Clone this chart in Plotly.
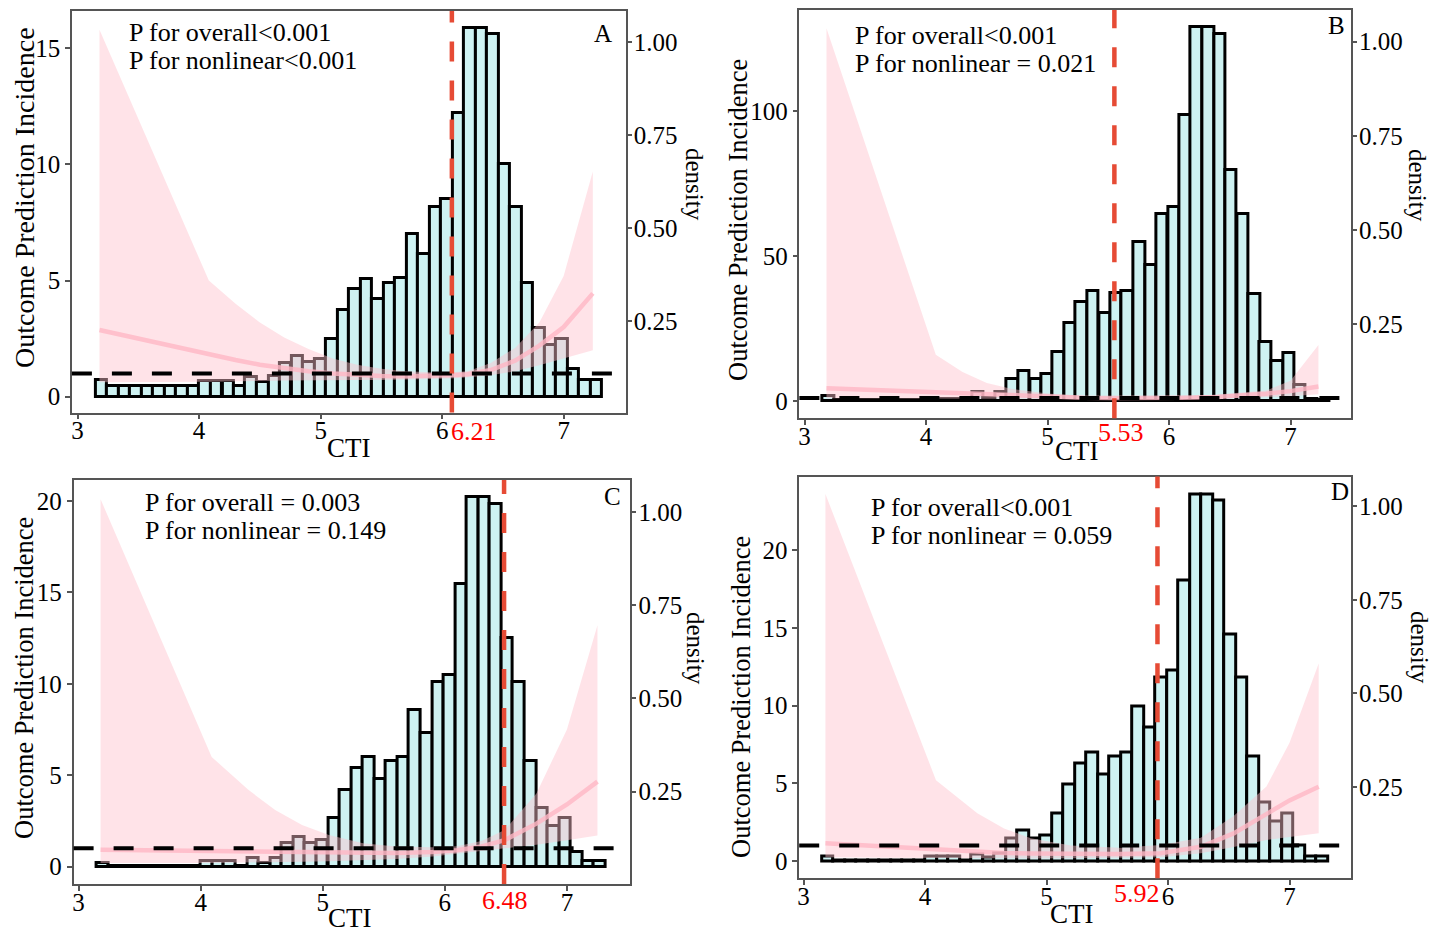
import plotly.graph_objects as go

W, H = 1441, 937

# ---------------- data ----------------
cti_bins = [3.197, 3.292, 3.387, 3.481, 3.576, 3.671, 3.765, 3.860, 3.955, 4.049,
            4.144, 4.239, 4.334, 4.428, 4.523, 4.618, 4.712, 4.807, 4.902, 4.996,
            5.091, 5.186, 5.280, 5.375, 5.470, 5.564, 5.659, 5.754, 5.849, 5.943,
            6.038, 6.133, 6.227, 6.322, 6.417, 6.511, 6.606, 6.701, 6.795, 6.890,
            6.985, 7.079, 7.174, 7.269]
bin_width = 0.0947

density_A = [0.092, 0.076, 0.076, 0.076, 0.076, 0.076, 0.076, 0.076, 0.076, 0.090,
             0.090, 0.090, 0.076, 0.099, 0.087, 0.102, 0.138, 0.157, 0.141, 0.148,
             0.203, 0.279, 0.335, 0.362, 0.308, 0.353, 0.365, 0.483, 0.429, 0.557,
             0.577, 0.809, 1.036, 1.036, 1.020, 0.671, 0.557, 0.353, 0.230, 0.186,
             0.203, 0.120, 0.092, 0.092]
density_B = [0.060, 0.048, 0.048, 0.048, 0.048, 0.048, 0.048, 0.048, 0.048, 0.052,
             0.052, 0.052, 0.049, 0.069, 0.055, 0.069, 0.105, 0.126, 0.105, 0.117,
             0.176, 0.253, 0.310, 0.338, 0.281, 0.332, 0.338, 0.467, 0.407, 0.542,
             0.560, 0.805, 1.040, 1.040, 1.020, 0.658, 0.542, 0.330, 0.204, 0.153,
             0.175, 0.088, 0.053, 0.050]
density_C = [0.060, 0.051, 0.051, 0.051, 0.051, 0.051, 0.051, 0.051, 0.051, 0.065,
             0.065, 0.065, 0.051, 0.071, 0.058, 0.071, 0.112, 0.129, 0.113, 0.121,
             0.179, 0.255, 0.313, 0.342, 0.283, 0.332, 0.342, 0.469, 0.408, 0.543,
             0.563, 0.806, 1.040, 1.040, 1.021, 0.661, 0.543, 0.332, 0.207, 0.158,
             0.179, 0.087, 0.063, 0.063]
density_D = [0.063, 0.053, 0.053, 0.053, 0.053, 0.053, 0.053, 0.053, 0.053, 0.063,
             0.063, 0.063, 0.053, 0.070, 0.062, 0.072, 0.112, 0.132, 0.112, 0.121,
             0.179, 0.257, 0.313, 0.341, 0.284, 0.332, 0.341, 0.466, 0.408, 0.543,
             0.561, 0.803, 1.033, 1.033, 1.015, 0.658, 0.542, 0.332, 0.207, 0.157,
             0.179, 0.092, 0.063, 0.063]

# restricted cubic spline fit (odds ratio) with 95% CI
curve_x_A = [3.18, 4.08, 4.3, 4.5, 4.7, 4.9, 5.1, 5.3, 5.5, 5.7, 5.9, 6.1, 6.21, 6.4, 6.6, 6.8, 7.0, 7.24]
fit_A     = [2.87, 1.82, 1.58, 1.38, 1.22, 1.10, 1.00, 0.93, 0.89, 0.88, 0.89, 0.93, 0.97, 1.15, 1.55, 2.2, 3.0, 4.45]
upper_A   = [15.8, 5.0, 4.0, 3.2, 2.55, 2.05, 1.65, 1.38, 1.2, 1.1, 1.05, 1.06, 1.1, 1.45, 2.1, 3.2, 5.2, 9.7]
lower_A   = [0.62, 0.64, 0.66, 0.68, 0.70, 0.71, 0.72, 0.72, 0.72, 0.73, 0.76, 0.80, 0.84, 0.92, 1.10, 1.35, 1.65, 2.0]

curve_x_B = [3.18, 4.08, 4.3, 4.5, 4.7, 5.0, 5.3, 5.53, 5.8, 6.1, 6.4, 6.6, 6.8, 7.0, 7.23]
fit_B     = [4.4, 3.0, 2.6, 2.2, 1.8, 1.4, 1.1, 1.0, 1.0, 1.1, 1.4, 1.8, 2.5, 3.4, 5.0]
upper_B   = [128.5, 15.9, 10.0, 6.2, 4.2, 2.6, 1.7, 1.35, 1.3, 1.5, 2.2, 3.0, 3.6, 7.0, 19.3]
lower_B   = [0.9, 0.9, 0.85, 0.8, 0.75, 0.7, 0.7, 0.72, 0.75, 0.8, 0.9, 1.05, 1.3, 1.6, 2.3]

curve_x_C = [3.18, 4.09, 4.39, 4.61, 4.83, 5.05, 5.33, 5.6, 5.9, 6.1, 6.3, 6.49, 6.75, 7.0, 7.25]
fit_C     = [0.92, 0.86, 0.82, 0.79, 0.76, 0.74, 0.73, 0.74, 0.80, 0.90, 1.1, 1.45, 2.35, 3.4, 4.65]
upper_C   = [20.1, 6.0, 4.2, 3.1, 2.28, 1.73, 1.28, 1.1, 1.06, 1.12, 1.4, 2.0, 4.0, 7.5, 13.2]
lower_C   = [0.2, 0.2, 0.22, 0.24, 0.27, 0.3, 0.35, 0.42, 0.55, 0.68, 0.85, 1.0, 1.2, 1.45, 1.7]

curve_x_D = [3.18, 4.09, 4.43, 4.65, 4.87, 5.2, 5.6, 5.94, 6.27, 6.54, 6.81, 7.0, 7.24]
fit_D     = [1.14, 0.72, 0.6, 0.52, 0.48, 0.46, 0.46, 0.5, 0.92, 1.78, 3.07, 3.9, 4.78]
upper_D   = [23.6, 5.2, 3.07, 2.1, 1.46, 1.0, 0.85, 1.03, 1.5, 2.9, 4.8, 7.6, 12.7]
lower_D   = [0.25, 0.2, 0.18, 0.17, 0.17, 0.18, 0.2, 0.25, 0.5, 0.9, 1.35, 1.55, 1.78]

cut_line_x = [6.08, 5.55, 6.485, 5.913]
cut_labels = ["6.21", "5.53", "6.48", "5.92"]
p_overall = ["P for overall&lt;0.001", "P for overall&lt;0.001", "P for overall = 0.003", "P for overall&lt;0.001"]
p_nonlinear = ["P for nonlinear&lt;0.001", "P for nonlinear = 0.021", "P for nonlinear = 0.149", "P for nonlinear = 0.059"]
panel_letters = ["A", "B", "C", "D"]
left_ticks = [[0, 5, 10, 15], [0, 50, 100], [0, 5, 10, 15, 20], [0, 5, 10, 15, 20]]
x_ticks = [3, 4, 5, 6, 7]
density_ticks = [0.25, 0.50, 0.75, 1.00]

# ---------------- layout (pixels) ----------------
FONT = "Liberation Serif, Times New Roman, serif"
panels = [
    dict(dens=density_A, cx=curve_x_A, fit=fit_A, up=upper_A, lo=lower_A,
         rect=(70, 624.5, 11, 412.5), xr=(2.953, 7.51), pr=(-0.68, 16.61), a=0.0467, b=0.06238,
         ptxt=(125, 32, 60), letter=(602, 34), cti=(347, 448), lab_shift=22, lab_y=431,
         ltitle=(22, 197), lsize=28, rtitle=(693, 184)),
    dict(dens=density_B, cx=curve_x_B, fit=fit_B, up=upper_B, lo=lower_B,
         rect=(798.5, 1351, 10, 418.3), xr=(2.957, 7.499), pr=(-5.97, 134.8), a=0.0464, b=0.007696,
         ptxt=(852, 35, 64), letter=(1336, 26), cti=(1076, 451), lab_shift=7, lab_y=432,
         ltitle=(737, 220), lsize=26.5, rtitle=(1418, 185)),
    dict(dens=density_C, cx=curve_x_C, fit=fit_C, up=upper_C, lo=lower_C,
         rect=(71.7, 629.3, 480, 884), xr=(2.959, 7.52), pr=(-0.95, 21.15), a=0.0490, b=0.04900,
         ptxt=(141, 502, 530), letter=(611, 496), cti=(348, 918), lab_shift=1, lab_y=900,
         ltitle=(22, 678), lsize=26.5, rtitle=(695, 648)),
    dict(dens=density_D, cx=curve_x_D, fit=fit_D, up=upper_D, lo=lower_D,
         rect=(798.3, 1351, 476.5, 878.3), xr=(2.964, 7.507), pr=(-1.11, 24.73), a=0.0514, b=0.0416,
         ptxt=(868, 507, 535), letter=(1340, 492), cti=(1071, 914), lab_shift=-20, lab_y=893,
         ltitle=(740, 697), lsize=26.5, rtitle=(1420, 647)),
]

BAR_FILL = "#CEF2F2"
RIBBON = "rgba(255,192,203,0.45)"
LINE = "rgba(255,182,196,0.8)"
RED = "#E64B35"
AX = "#555555"

fig = go.Figure()
layout = dict(width=W, height=H, margin=dict(l=0, r=0, t=0, b=0), autosize=False,
              paper_bgcolor="white", plot_bgcolor="white", showlegend=False,
              font=dict(family=FONT, size=25, color="black"))
annotations = []
shapes = []


def px(x):
    return x / W


def py(y):
    return 1 - y / H


for i, P in enumerate(panels):
    n = i + 1
    xa = "x" if n == 1 else f"x{n}"
    yp = "y" if n == 1 else f"y{2 * n - 1}"
    ys = f"y{2 * n}"
    xkey = "xaxis" if n == 1 else f"xaxis{n}"
    ypkey = "yaxis" if n == 1 else f"yaxis{2 * n - 1}"
    yskey = f"yaxis{2 * n}"
    l, r, t, btm = P["rect"]
    a, b = P["a"], P["b"]

    # histogram (density converted to the primary axis through the secondary-axis transform)
    fig.add_trace(go.Bar(x=cti_bins, y=[(d - a) / b for d in P["dens"]], width=bin_width,
                         marker=dict(color=BAR_FILL, line=dict(color="black", width=3)),
                         xaxis=xa, yaxis=yp, hoverinfo="skip"))
    # confidence ribbon
    fig.add_trace(go.Scatter(x=P["cx"] + P["cx"][::-1], y=P["up"] + P["lo"][::-1],
                             fill="toself", fillcolor=RIBBON, line=dict(width=0),
                             mode="lines", xaxis=xa, yaxis=yp, hoverinfo="skip"))
    # fitted curve
    fig.add_trace(go.Scatter(x=P["cx"], y=P["fit"], mode="lines",
                             line=dict(color=LINE, width=4.5), xaxis=xa, yaxis=yp, hoverinfo="skip"))
    # secondary axis carrier
    fig.add_trace(go.Scatter(x=[None], y=[None], mode="markers", xaxis=xa, yaxis=ys, hoverinfo="skip"))

    common = dict(showgrid=False, zeroline=False, ticks="outside", ticklen=5, tickwidth=1.5,
                  tickcolor=AX, tickfont=dict(family=FONT, size=25, color="black"))
    layout[xkey] = dict(domain=[px(l), px(r)], range=list(P["xr"]), tickvals=x_ticks,
                        showline=True, mirror=True, linecolor=AX, linewidth=1.5,
                        anchor=yp, ticklabelstandoff=-10, **common)
    layout[ypkey] = dict(domain=[py(btm), py(t)], range=list(P["pr"]), tickvals=left_ticks[i],
                         showline=True, mirror=True, linecolor=AX, linewidth=1.5,
                         anchor=xa, **common)
    layout[yskey] = dict(overlaying=yp, side="right", anchor=xa,
                         range=[a + b * P["pr"][0], a + b * P["pr"][1]],
                         tickvals=density_ticks, ticktext=[f"{v:.2f}" for v in density_ticks],
                         showline=False, ticklabelstandoff=-3, **common)

    # reference line OR = 1
    shapes.append(dict(type="line", xref=f"{xa} domain", x0=0, x1=1, yref=yp, y0=1, y1=1,
                       line=dict(color="black", width=4, dash="20px,20px"), layer="above"))
    # cut-off line
    shapes.append(dict(type="line", xref=xa, x0=cut_line_x[i], x1=cut_line_x[i],
                       yref=f"{yp} domain", y0=0, y1=1,
                       line=dict(color=RED, width=4.5, dash="20px,19px"), layer="above"))

    # texts
    tx, ty1, ty2 = P["ptxt"]
    annotations.append(dict(text=p_overall[i], x=px(tx), y=py(ty1), xref="paper", yref="paper",
                            xanchor="left", yanchor="middle", showarrow=False, font=dict(size=26)))
    annotations.append(dict(text=p_nonlinear[i], x=px(tx), y=py(ty2), xref="paper", yref="paper",
                            xanchor="left", yanchor="middle", showarrow=False, font=dict(size=26)))
    lx, ly = P["letter"]
    annotations.append(dict(text=panel_letters[i], x=px(lx), y=py(ly), xref="paper", yref="paper",
                            xanchor="center", yanchor="middle", showarrow=False, font=dict(size=25)))
    cx_, cy_ = P["cti"]
    annotations.append(dict(text="CTI", x=px(cx_), y=py(cy_), xref="paper", yref="paper",
                            xanchor="center", yanchor="middle", showarrow=False, font=dict(size=27)))
    annotations.append(dict(text=cut_labels[i], x=cut_line_x[i], xref=xa, xshift=P["lab_shift"],
                            y=py(P["lab_y"]), yref="paper", xanchor="center", yanchor="middle",
                            showarrow=False, font=dict(size=26, color="red")))
    ltx, lty = P["ltitle"]
    annotations.append(dict(text="Outcome Prediction Incidence", x=px(ltx), y=py(lty), xref="paper",
                            yref="paper", xanchor="center", yanchor="middle", textangle=-90,
                            showarrow=False, font=dict(size=P["lsize"])))
    rtx, rty = P["rtitle"]
    annotations.append(dict(text="density", x=px(rtx), y=py(rty), xref="paper", yref="paper",
                            xanchor="center", yanchor="middle", textangle=90,
                            showarrow=False, font=dict(size=25)))

layout["annotations"] = annotations
layout["shapes"] = shapes
layout["bargap"] = 0
fig.update_layout(**layout)
fig.write_html("out.html")
